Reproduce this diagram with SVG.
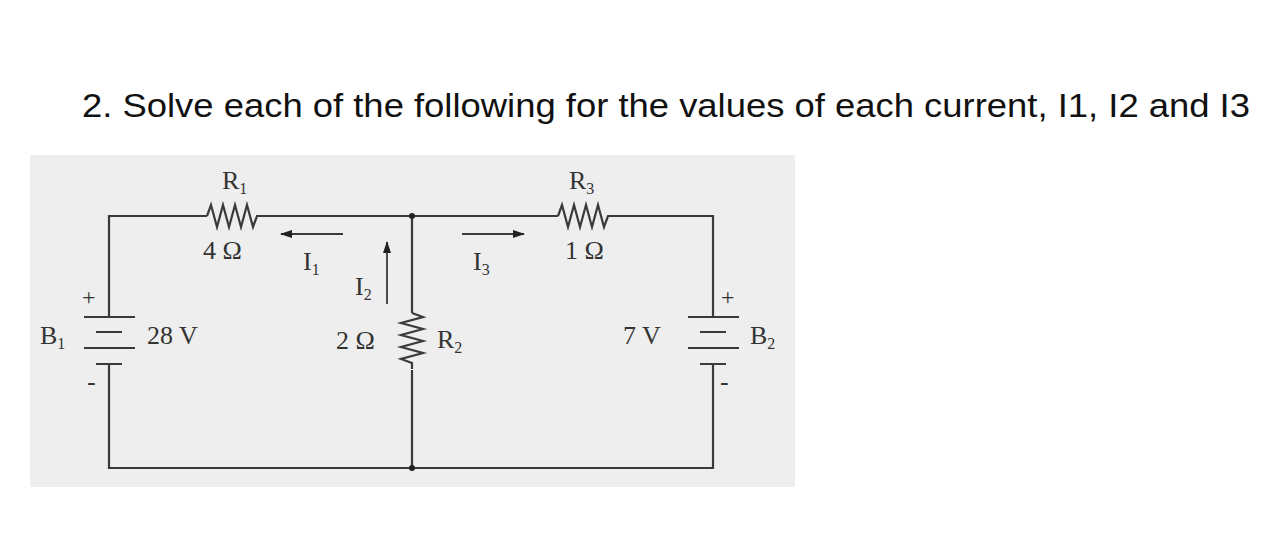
<svg xmlns="http://www.w3.org/2000/svg" width="1270" height="536" viewBox="0 0 1270 536">
<style>
.w{fill:none;stroke:#3a3a3a;stroke-width:2.2;stroke-linejoin:miter}
.t{font-family:"Liberation Serif",serif;font-size:26px;fill:#333}
.s{font-size:16px}
.title{font-family:"Liberation Sans",Arial,sans-serif;font-size:34px;fill:#111}
</style>
<defs><marker id="ah" markerWidth="12" markerHeight="8" refX="11" refY="4" orient="auto" markerUnits="userSpaceOnUse"><path d="M0,0 L12,4 L0,8 z" fill="#222"/></marker></defs>
<rect width="1270" height="536" fill="#fff"/>
<text class="title" x="82" y="117" textLength="1168" lengthAdjust="spacingAndGlyphs">2. Solve each of the following for the values of each current, I1, I2 and I3</text>
<rect x="30" y="155" width="765" height="332" fill="#eeeeee"/>
<g id="connectors">
<path class="w" d="M109,317 V216 H207 M263,216 H558 M617,216 H713 V317"/>
<path class="w" d="M109,364 V468 H713 V364"/>
<path class="w" d="M412,216 V313 M412,370 V468"/>
</g>
<g id="R1"><path class="w" d="M207,216 l4,-11 l6,22 l6,-22 l6,22 l6,-22 l6,22 l6,-22 l6,22 l4,-11 h6"/>
<text class="t" x="222" y="189">R<tspan class="s" dy="5">1</tspan></text><text class="t" x="203" y="259">4 Ω</text></g>
<g id="R3"><path class="w" d="M558,216 l4,-11 l6,22 l6,-22 l6,22 l6,-22 l6,22 l6,-22 l6,22 l4,-11 h9"/>
<text class="t" x="569" y="189">R<tspan class="s" dy="5">3</tspan></text><text class="t" x="565" y="259">1 Ω</text></g>
<g id="R2"><path class="w" d="M412,313 l11,4 l-22,6 l22,6 l-22,6 l22,6 l-22,6 l22,6 l-22,6 l11,4 v6"/>
<text class="t" x="437" y="348">R<tspan class="s" dy="5">2</tspan></text><text class="t" x="336" y="349">2 Ω</text></g>
<g id="B1"><path class="w" d="M84,317 H135 M96,332 H122 M84,348 H135 M96,364 H122"/>
<text class="t" x="82" y="305" style="font-size:24px">+</text><text class="t" x="87" y="390">-</text>
<text class="t" x="40" y="344">B<tspan class="s" dy="5">1</tspan></text><text class="t" x="147" y="344">28 V</text></g>
<g id="B2"><path class="w" d="M688,317 H739 M700,332 H726 M688,348 H739 M700,364 H726"/>
<text class="t" x="721" y="305" style="font-size:24px">+</text><text class="t" x="720" y="390">-</text>
<text class="t" x="750" y="344">B<tspan class="s" dy="5">2</tspan></text><text class="t" x="623" y="344">7 V</text></g>
<g id="nodes"><circle cx="412" cy="216" r="3" fill="#222"/><circle cx="412" cy="468" r="3" fill="#222"/></g>
<g id="currents">
<path class="w" d="M343,234 H281" marker-end="url(#ah)" style="stroke-width:1.8"/>
<path class="w" d="M387,304 V242" marker-end="url(#ah)" style="stroke-width:1.8"/>
<path class="w" d="M462,234 H524" marker-end="url(#ah)" style="stroke-width:1.8"/>
<text class="t" x="303" y="270">I<tspan class="s" dy="5">1</tspan></text>
<text class="t" x="355" y="295">I<tspan class="s" dy="5">2</tspan></text>
<text class="t" x="473" y="270">I<tspan class="s" dy="5">3</tspan></text>
</g>
</svg>
